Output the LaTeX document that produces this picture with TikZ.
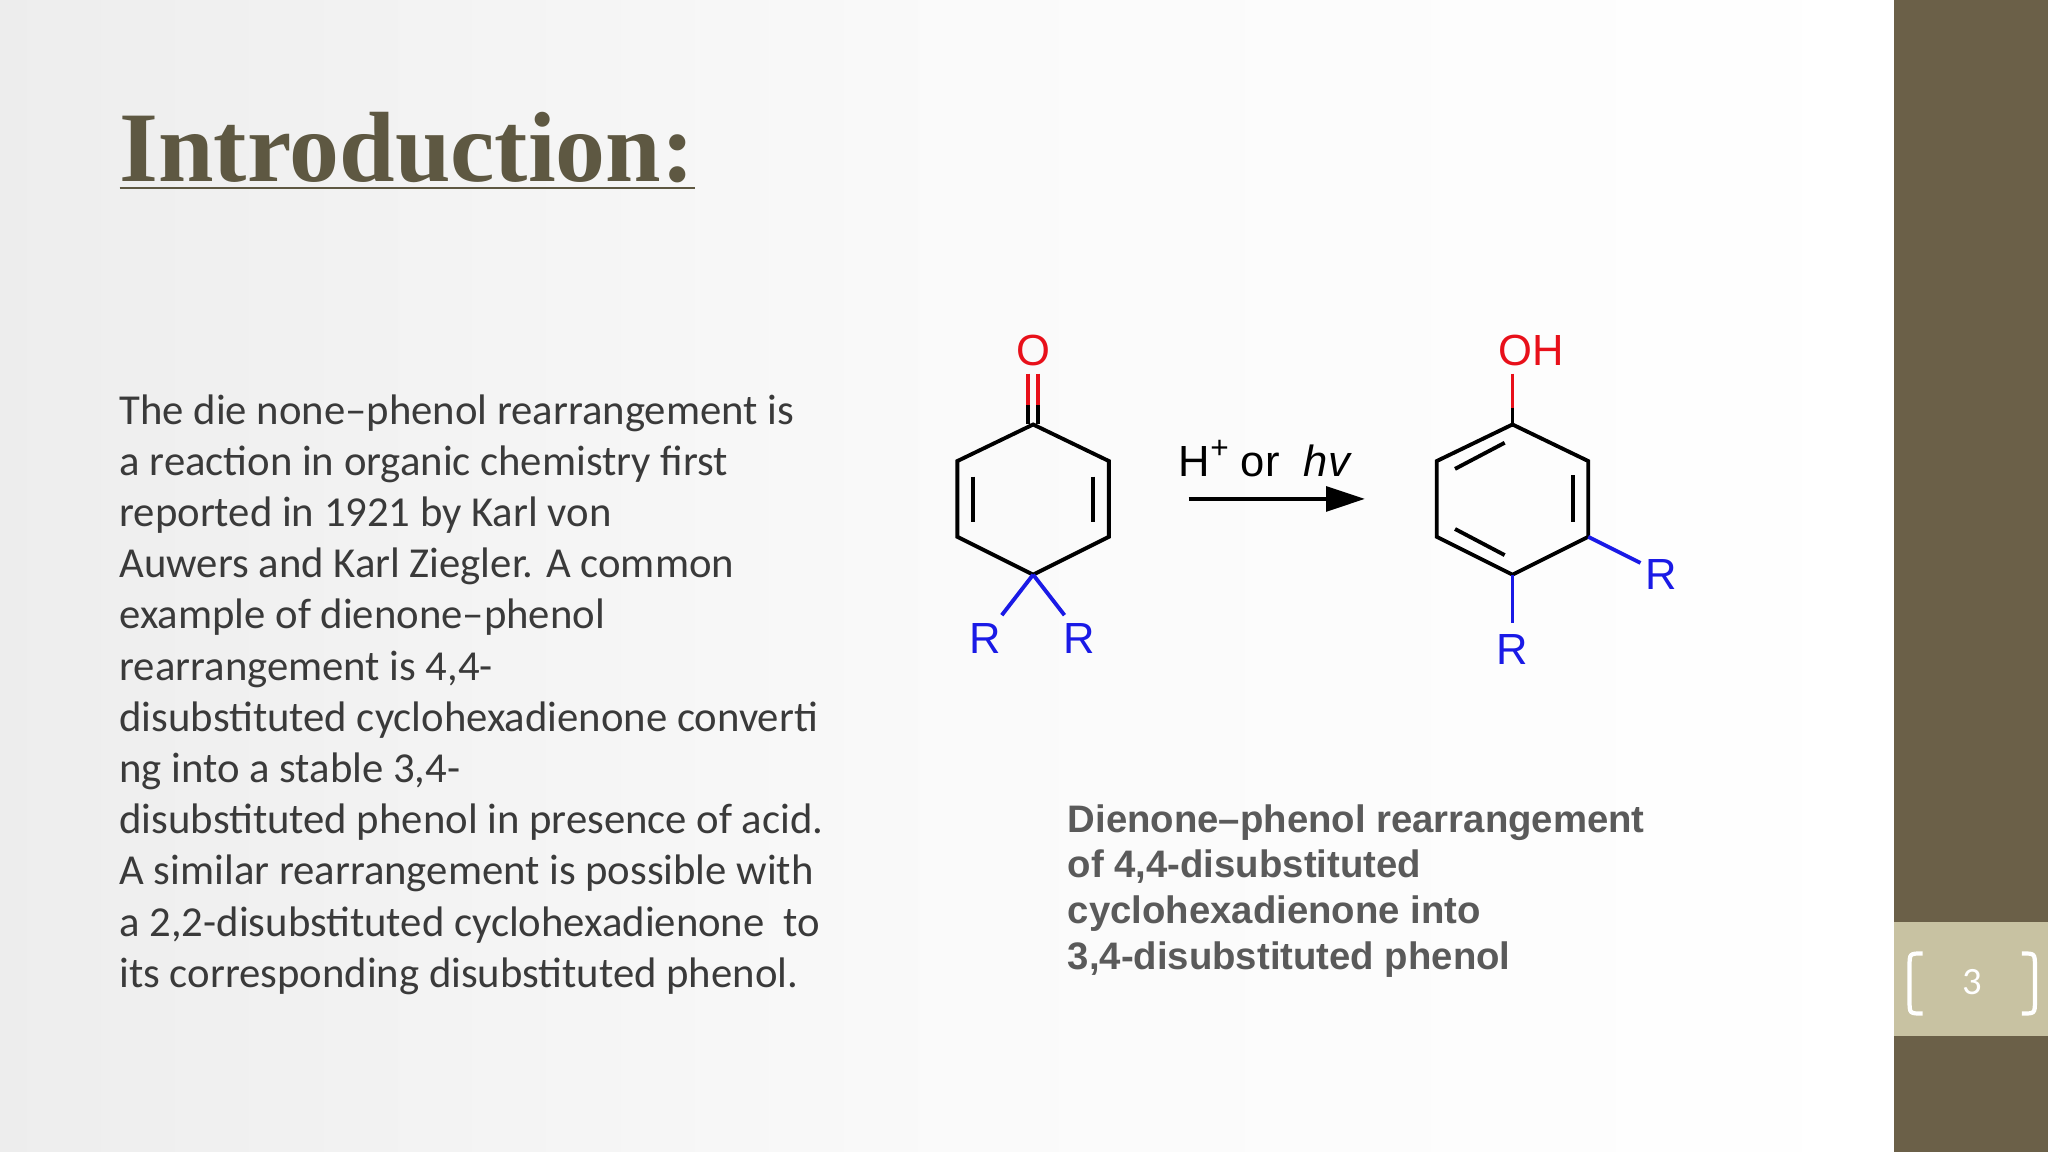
\documentclass[tikz,border=0pt]{standalone}
\usepackage{fontspec}
\setmainfont{Carlito}
\newfontfamily\titlefont{Liberation Serif}
\newfontfamily\arialfont{Liberation Sans}
\usetikzlibrary{arrows.meta}
\definecolor{olive}{HTML}{5E5842}
\definecolor{barcol}{HTML}{6B6048}
\definecolor{numbox}{HTML}{C8C2A2}
\definecolor{bodytext}{HTML}{3A3A3A}
\definecolor{captext}{HTML}{5A5A5A}
\definecolor{chemred}{HTML}{E8101A}
\definecolor{chemblue}{HTML}{1A1AE6}
\tikzset{
  body/.style={anchor=base west,inner sep=0pt,text=bodytext,font=\fontsize{12.15}{14}\selectfont},
  captionline/.style={anchor=base west,inner sep=0pt,text=captext,font=\arialfont\bfseries\fontsize{10.9}{12}\selectfont},
  atom/.style={inner sep=0pt,font=\arialfont\fontsize{12.4}{14}\selectfont},
  bond/.style={line width=1.1pt},
}
\begin{document}
\begin{tikzpicture}[x=0.01306cm,y=-0.01306cm]
\useasboundingbox (0,0) rectangle (1568,882);
\shade[left color=black!7,right color=white,middle color=white!98!black] (0,0) rectangle (1450,882);
\fill[barcol] (1450,0) rectangle (1568,882);
\fill[numbox] (1450,706) rectangle (1568,793);
\draw[white,line width=1.2pt] (1472,730) .. controls (1462,730) and (1462,730) .. (1462,740) -- (1462,766) .. controls (1462,776) and (1462,776) .. (1472,776);
\draw[white,line width=1.2pt] (1548,730) .. controls (1558,730) and (1558,730) .. (1558,740) -- (1558,766) .. controls (1558,776) and (1558,776) .. (1548,776);
\node[text=white,font=\fontsize{11}{12}\selectfont] (pg) at (1510,752) {3};
% title
\node[anchor=base west,inner sep=0pt,text=olive,font=\titlefont\bfseries\fontsize{28.4}{34}\selectfont] (title) at (91,139) {\underline{Introduction:}};
% body
\node[body] (l1) at (91,325) {The die none–phenol rearrangement is};
\node[body] (l2) at (91,364) {a reaction in organic chemistry first};
\node[body] (l3) at (91,403) {reported in 1921 by Karl von};
\node[body] (l4) at (91,442) {Auwers and Karl Ziegler. A common};
\node[body] (l5) at (91,481) {example of dienone–phenol};
\node[body] (l6) at (91,521) {rearrangement is 4,4-};
\node[body] (l7) at (91,560) {disubstituted cyclohexadienone converti};
\node[body] (l8) at (91,599) {ng into a stable 3,4-};
\node[body] (l9) at (91,638) {disubstituted phenol in presence of acid.};
\node[body] (l10) at (91,677) {A similar rearrangement is possible with};
\node[body] (l11) at (91,717) {a 2,2-disubstituted cyclohexadienone\ \ to};
\node[body] (l12) at (91,756) {its corresponding disubstituted phenol.};
% caption
\node[captionline] (c1) at (817,637) {Dienone–phenol rearrangement};
\node[captionline] (c2) at (817,672) {of 4,4-disubstituted};
\node[captionline] (c3) at (817,707) {cyclohexadienone into};
\node[captionline] (c4) at (817,742) {3,4-disubstituted phenol};
% left molecule
\coordinate (a1) at (791,325); \coordinate (a2) at (849,353); \coordinate (a3) at (849,411);
\coordinate (a4) at (791,440); \coordinate (a5) at (733,411); \coordinate (a6) at (733,353);
\draw[bond] (a1)--(a2)--(a3)--(a4)--(a5)--(a6)--cycle;
\draw[bond] (837,365)--(837,400);
\draw[bond] (745,365)--(745,400);
\node[atom,text=chemred] (O1) at (791,268) {O};
\draw[bond,chemred] (787,286)--(787,325);
\draw[bond,chemred] (795,286)--(795,325);
\draw[bond] (787,310)--(787,325) (795,310)--(795,325);
\node[atom,text=chemblue] (R1) at (754,489) {R};
\node[atom,text=chemblue] (R2) at (826,489) {R};
\draw[bond,chemblue] (a4)--(767,471);
\draw[bond,chemblue] (a4)--(815,471);
% arrow
\coordinate (ar1) at (910,382); \coordinate (ar2) at (1045,382);
\draw[line width=1.1pt,-{Triangle[length=11pt,width=7pt]}] (ar1)--(ar2);
\node[atom,anchor=base west] (cond) at (902,365) {H\raisebox{0.8ex}{\fontsize{9}{10}\selectfont +}\ or\ \ \textit{hv}};
% right molecule
\coordinate (b1) at (1158,325); \coordinate (b2) at (1216,353); \coordinate (b3) at (1216,411);
\coordinate (b4) at (1158,440); \coordinate (b5) at (1100,411); \coordinate (b6) at (1100,353);
\draw[bond] (b1)--(b2)--(b3)--(b4)--(b5)--(b6)--cycle;
\draw[bond] (1204,364)--(1204,400);
\draw[bond] (1114,359)--(1152,339);
\draw[bond] (1114,405)--(1152,425);
\node[atom,text=chemred] (OH) at (1172,268) {OH};
\draw[bond,chemred] (1158,286)--(1158,312);
\draw[bond] (1158,312)--(b1);
\node[atom,text=chemblue] (R3) at (1272,440) {R};
\node[atom,text=chemblue] (R4) at (1158,497) {R};
\draw[bond,chemblue] (b3)--(1256,431);
\draw[bond,chemblue] (b4)--(1158,477);
\end{tikzpicture}
\end{document}
